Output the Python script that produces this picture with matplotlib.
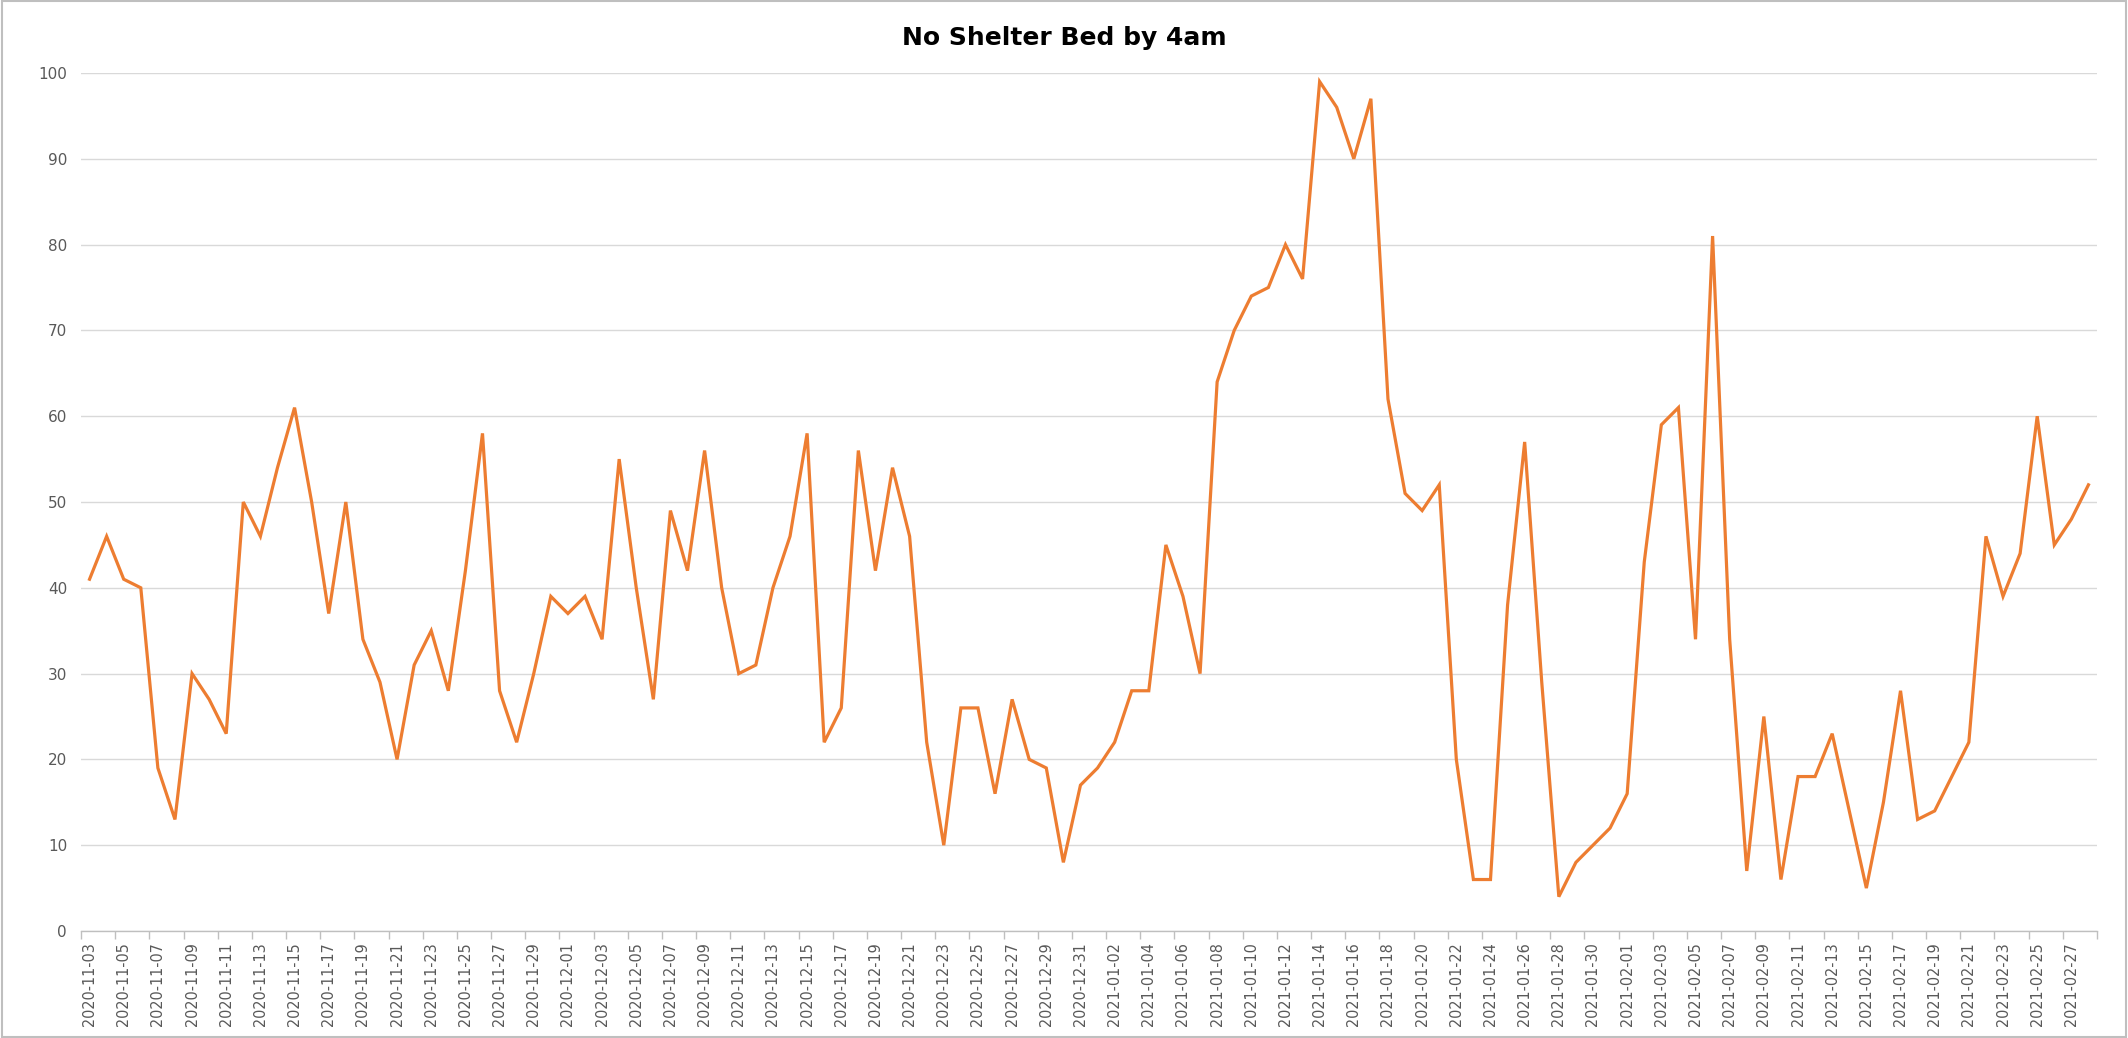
import datetime as dt
import matplotlib
matplotlib.use("Agg")
import matplotlib.pyplot as plt
from matplotlib.patches import Rectangle
from matplotlib import font_manager

start_date = dt.date(2020, 11, 3)
end_date = dt.date(2021, 2, 28)

# values, one per day
nov_values = [41, 46, 41, 40, 19, 13, 30, 27, 23, 50, 46, 54, 61, 50, 37, 50, 34, 29, 20, 31,
              35, 28, 42, 58, 28, 22, 30, 39]
dec_values = [37, 39, 34, 55, 40, 27, 49, 42, 56, 40, 30, 31, 40, 46, 58, 22, 26, 56, 42, 54,
              46, 22, 10, 26, 26, 16, 27, 20, 19, 8, 17]
jan_values = [19, 22, 28, 28, 45, 39, 30, 64, 70, 74, 75, 80, 76, 99, 96, 90, 97, 62, 51, 49,
              52, 20, 6, 6, 38, 57, 29, 4, 8, 10, 12]
feb_values = [16, 43, 59, 61, 34, 81, 34, 7, 25, 6, 18, 18, 23, 14, 5, 15, 28, 13, 14, 18,
              22, 46, 39, 44, 60, 45, 48, 52]

values = nov_values + dec_values + jan_values + feb_values
n_days = (end_date - start_date).days + 1
dates = [(start_date + dt.timedelta(days=i)).isoformat() for i in range(n_days)]

title = "No Shelter Bed by 4am"
y_ticks = list(range(0, 101, 10))

available = {f.name for f in font_manager.fontManager.ttflist}
label_font = "Liberation Sans Narrow" if "Liberation Sans Narrow" in available else "DejaVu Sans"

fig = plt.figure(figsize=(21.28, 10.38), dpi=100)
ax = fig.add_axes([81 / 2128, 1 - 931 / 1038, (2097 - 81) / 2128, (931 - 73) / 1038])

x = list(range(n_days))
ax.plot(x, values, color="#ED7D31", linewidth=2.3, solid_joinstyle="miter", zorder=3)

ax.set_xlim(-0.5, n_days - 0.5)
ax.set_ylim(0, 100)
ax.set_yticks(y_ticks)
ax.yaxis.grid(True, color="#D9D9D9", linewidth=1.0)
ax.set_axisbelow(True)

ax.set_xticks(x[::2])
ax.set_xticklabels(dates[::2], rotation=90, fontsize=11.5, color="#595959",
                   family=label_font, fontstretch="condensed")
ax.set_xticks([i - 0.5 for i in range(0, n_days + 1, 2)], minor=True)
ax.tick_params(axis="x", which="major", length=0, pad=8)
ax.tick_params(axis="x", which="minor", length=6, color="#BFBFBF", width=1)
ax.tick_params(axis="y", length=0, labelsize=11, labelcolor="#595959", pad=10)

for s in ["top", "right", "left"]:
    ax.spines[s].set_visible(False)
ax.spines["bottom"].set_color("#BFBFBF")
ax.spines["bottom"].set_linewidth(1)

fig.text(0.5, 1 - 38 / 1038, title, ha="center", va="center", fontsize=18, fontweight="bold")

fig.patches.append(Rectangle((0.0008, 0.0012), 0.9984, 0.9976, transform=fig.transFigure,
                             fill=False, edgecolor="#BFBFBF", linewidth=1.5))

fig.savefig("out.png", dpi=100)
